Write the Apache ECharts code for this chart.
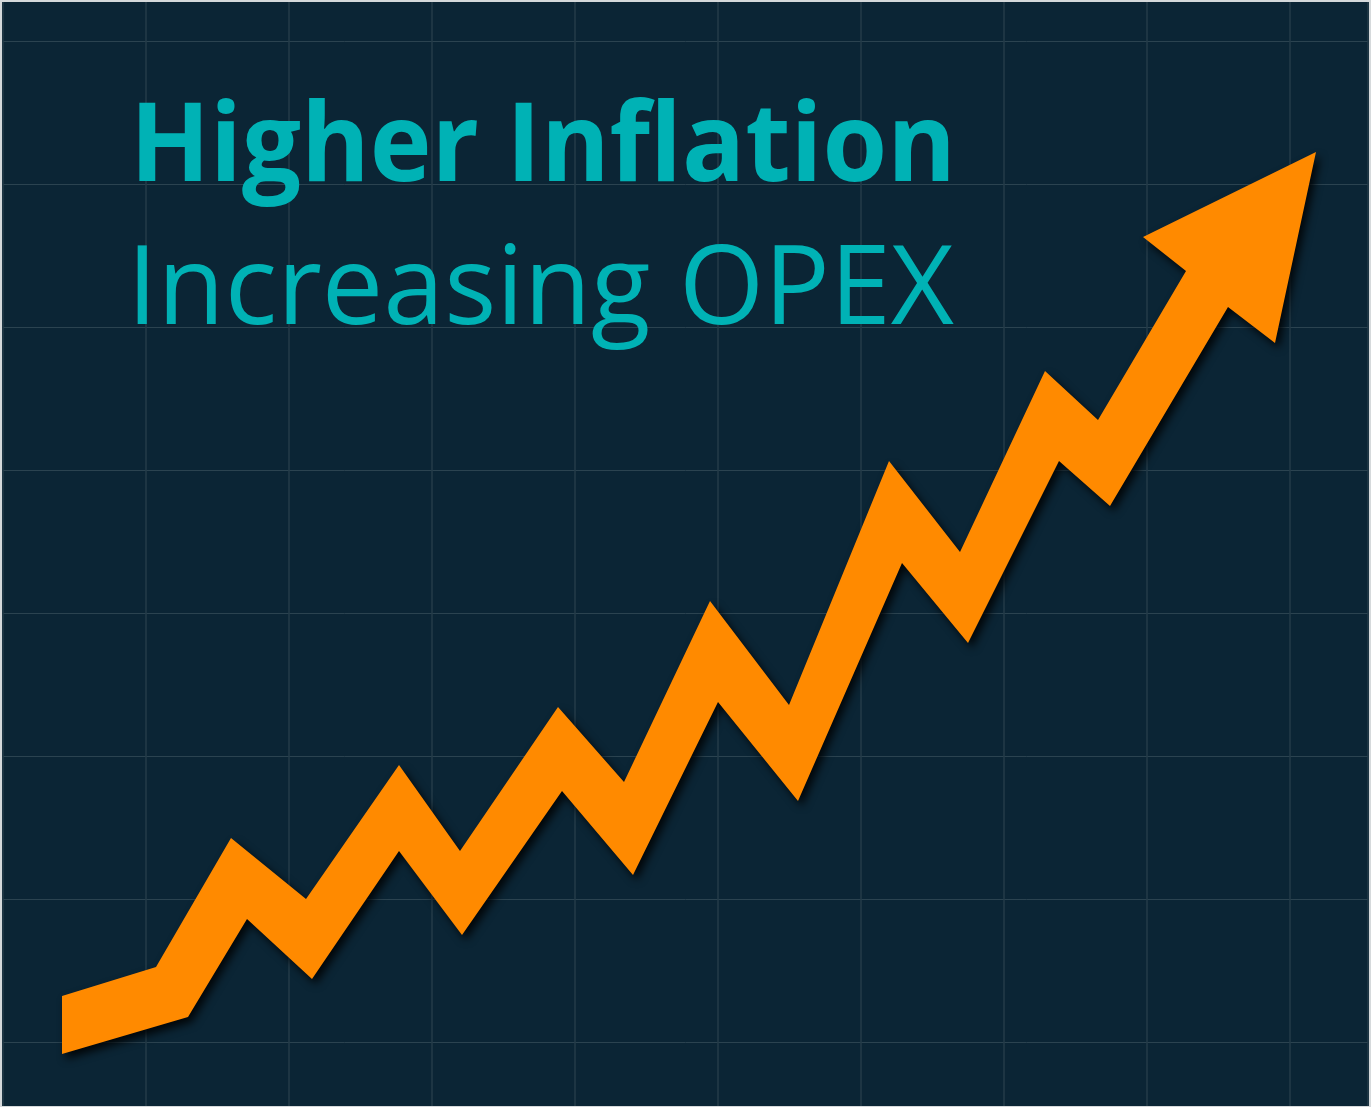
<!DOCTYPE html>
<html>
<head>
<meta charset="utf-8">
<script src="https://cdn.jsdelivr.net/npm/echarts@6/dist/echarts.min.js"></script>
<style>
  html, body { margin: 0; padding: 0; background: #d5d9db; }
  #frame { position: absolute; left: 2px; top: 2px; width: 1367px; height: 1104px; overflow: hidden; }
  /* chart is taller than the frame so the grid lines land where they do in the original */
  #main { position: absolute; left: 0; top: -103px; width: 1367px; height: 1286px; }
</style>
</head>
<body>
<div id="frame"><div id="main"></div></div>
<script>
// upper edge of the zigzag band, left to right (chart units, grid step = 143)
var upperX = [59, 153, 228, 303, 396, 457, 555, 621, 707, 786, 886, 957, 1042, 1095, 1183]
var upperY = [46, 75, 204, 143, 277, 191, 335, 260, 441, 337, 581, 490, 671, 622, 771]
// arrow head: left barb, tip, right barb, inner notch
var headX = [1140, 1313, 1272, 1225]
var headY = [805, 890, 699, 735]
// lower edge of the band, right to left
var lowerX = [1107, 1056, 965, 899, 795, 715, 630, 559, 459, 396, 309, 244, 185, 59]
var lowerY = [536, 581, 399, 479, 241, 340, 167, 251, 107, 191, 63, 123, 25, -12]

var titleLines = ['Higher Inflation', 'Increasing OPEX']

var outline = []
upperX.forEach(function (x, i) { outline.push([x, upperY[i]]) })
headX.forEach(function (x, i) { outline.push([x, headY[i]]) })
lowerX.forEach(function (x, i) { outline.push([x, lowerY[i]]) })

var teal = '#00b2b5'
var fontFamily = '"Open Sans", sans-serif'

// squeeze the text horizontally so each line spans the same width as the original
function fitScale (text, weight, size, target) {
  var ctx = document.createElement('canvas').getContext('2d')
  ctx.font = weight + ' ' + size + 'px ' + fontFamily
  return target / ctx.measureText(text).width
}

var chart = echarts.init(document.getElementById('main'))

var option = {
  animation: false,
  backgroundColor: '#0b2535',
  grid: { left: 1, right: 1, top: 0, bottom: 0 },
  xAxis: {
    type: 'value',
    min: 0,
    max: 1365,
    interval: 143,
    axisLine: { show: false },
    axisTick: { show: false },
    axisLabel: { show: false },
    splitLine: { show: true, lineStyle: { color: '#243b48', width: 1.5 } }
  },
  yAxis: {
    type: 'value',
    min: -143,
    max: 1143,
    interval: 143,
    axisLine: { show: false },
    axisTick: { show: false },
    axisLabel: { show: false },
    splitLine: { show: true, lineStyle: { color: '#2b4350', width: 1 } }
  },
  graphic: [
    {
      type: 'text',
      z: 100,
      x: 128,
      y: 103 + 93,
      scaleX: fitScale(titleLines[0], 'bold', 110, 826),
      style: {
        text: titleLines[0],
        fill: teal,
        fontSize: 110,
        fontWeight: 'bold',
        fontFamily: fontFamily
      }
    },
    {
      type: 'text',
      z: 100,
      x: 125,
      y: 103 + 236,
      scaleX: fitScale(titleLines[1], 'normal', 110, 827),
      style: {
        text: titleLines[1],
        fill: teal,
        fontSize: 110,
        fontWeight: 'normal',
        fontFamily: fontFamily
      }
    }
  ],
  series: [{
    type: 'custom',
    z: 10,
    data: outline,
    renderItem: function (params, api) {
      if (params.dataIndex !== 0) return null
      var pts = outline.map(function (p) { return api.coord(p) })
      return {
        type: 'polygon',
        shape: { points: pts },
        style: {
          fill: '#ff8a00',
          shadowBlur: 8,
          shadowColor: 'rgba(0,0,0,0.85)',
          shadowOffsetX: 4,
          shadowOffsetY: 5
        }
      }
    }
  }]
}

chart.setOption(option)
</script>
</body>
</html>
